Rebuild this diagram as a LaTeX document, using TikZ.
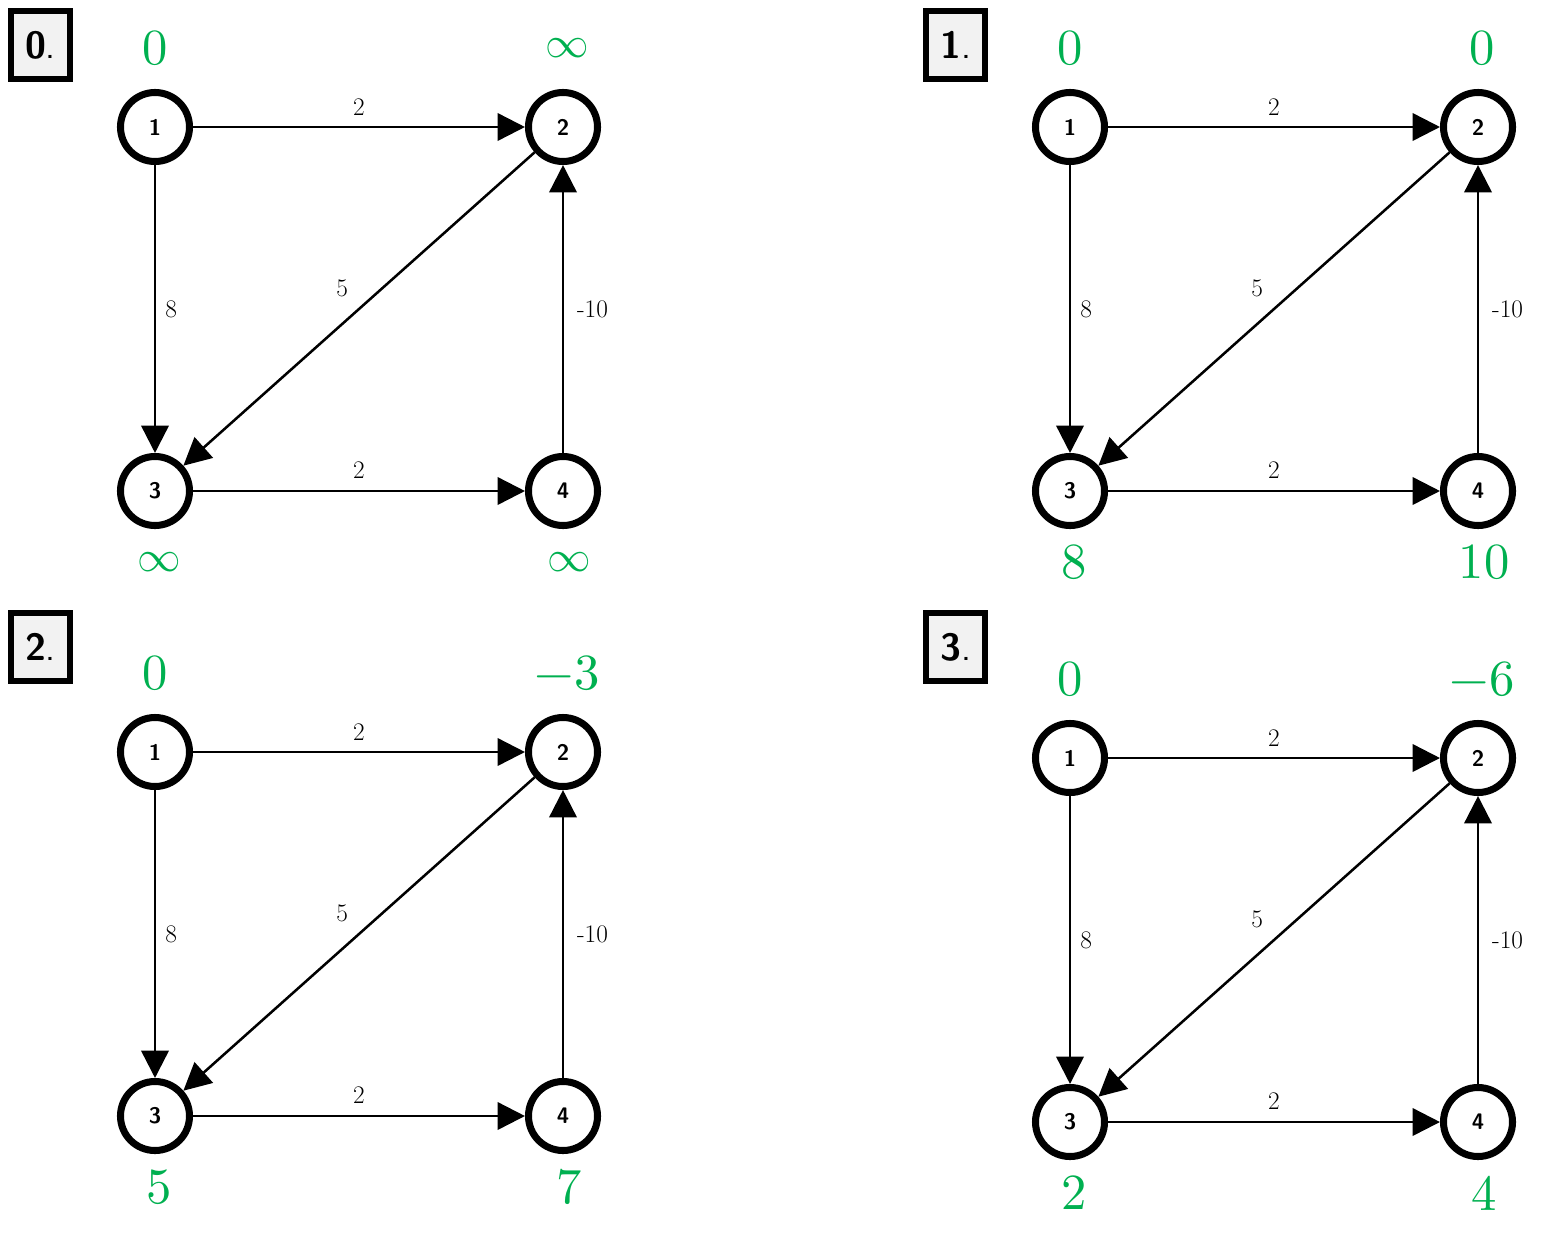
\documentclass[tikz,border=0pt]{standalone}
\usepackage{tikz}
\usepackage{unicode-math}
\usetikzlibrary{arrows.meta,positioning}
\definecolor{distgreen}{RGB}{0,176,80}
\definecolor{boxgray}{RGB}{242,242,242}

\begin{document}
\begin{tikzpicture}[
    x=0.025cm, y=-0.025cm,
    vertex/.style={draw,circle,line width=5pt,minimum size=1.725cm,inner sep=0pt,fill=white,font=\sffamily\bfseries\fontsize{16}{16}\selectfont},
    edge/.style={-{Triangle[length=19.5pt,width=19.5pt]},line width=1.8pt},
    weight/.style={font=\fontsize{18}{18}\selectfont,inner sep=1pt},
    dist/.style={text=distgreen,font=\fontsize{36}{36}\selectfont},
    stepbox/.style={draw,line width=4.3pt,fill=boxgray,minimum width=1.475cm,minimum height=1.7cm,inner sep=0pt,font=\sffamily\fontsize{27}{27}\selectfont},
]

\useasboundingbox (0,0) rectangle (1557,1237);

% One panel per iteration: step, shift, box height, distances of 1..4
\foreach \s/\dx/\dy/\by/\da/\db/\dc/\dd in {
    0/0/0/45/$0$/{\fontsize{31}{31}\selectfont$\infty$}/{\fontsize{31}{31}\selectfont$\infty$}/{\fontsize{31}{31}\selectfont$\infty$},
    1/915/0/45/$0$/$0$/$8$/$10$,
    2/0/625/647/$0$/$-3$/$5$/$7$,
    3/915/631/647/$0$/$-6$/$2$/$4$} {

  % Step number
  \node[stepbox] (box\s) at (\dx+40.5,\by) {\textbf{\s}.};

  \begin{scope}[shift={(\dx,\dy)}]
    % Vertices
    \node[vertex] (v\s1) at (155,127) {1};
    \node[vertex] (v\s2) at (563,127) {2};
    \node[vertex] (v\s3) at (155,491) {3};
    \node[vertex] (v\s4) at (563,491) {4};

    % Edges with weights
    \draw[edge] (v\s1) -- node[weight,midway,yshift=14pt] (w\s12) {2} (v\s2);
    \draw[edge] (v\s1) -- node[weight,midway,xshift=11.5pt] (w\s13) {8} (v\s3);
    \draw[edge] (v\s2) -- node[weight,midway,xshift=-12pt,yshift=15pt] (w\s23) {5} (v\s3);
    \draw[edge] (v\s4) -- node[weight,midway,xshift=21pt] (w\s42) {-10} (v\s2);
    \draw[edge] (v\s3) -- node[weight,midway,yshift=15pt] (w\s34) {2} (v\s4);

    % Current distances
    \node[dist] (d\s1) at (155,48) {\da};
    \node[dist] (d\s2) at (567,48) {\db};
    \node[dist] (d\s3) at (159,562) {\dc};
    \node[dist] (d\s4) at (569,562) {\dd};
  \end{scope}
}

\end{tikzpicture}
\end{document}
